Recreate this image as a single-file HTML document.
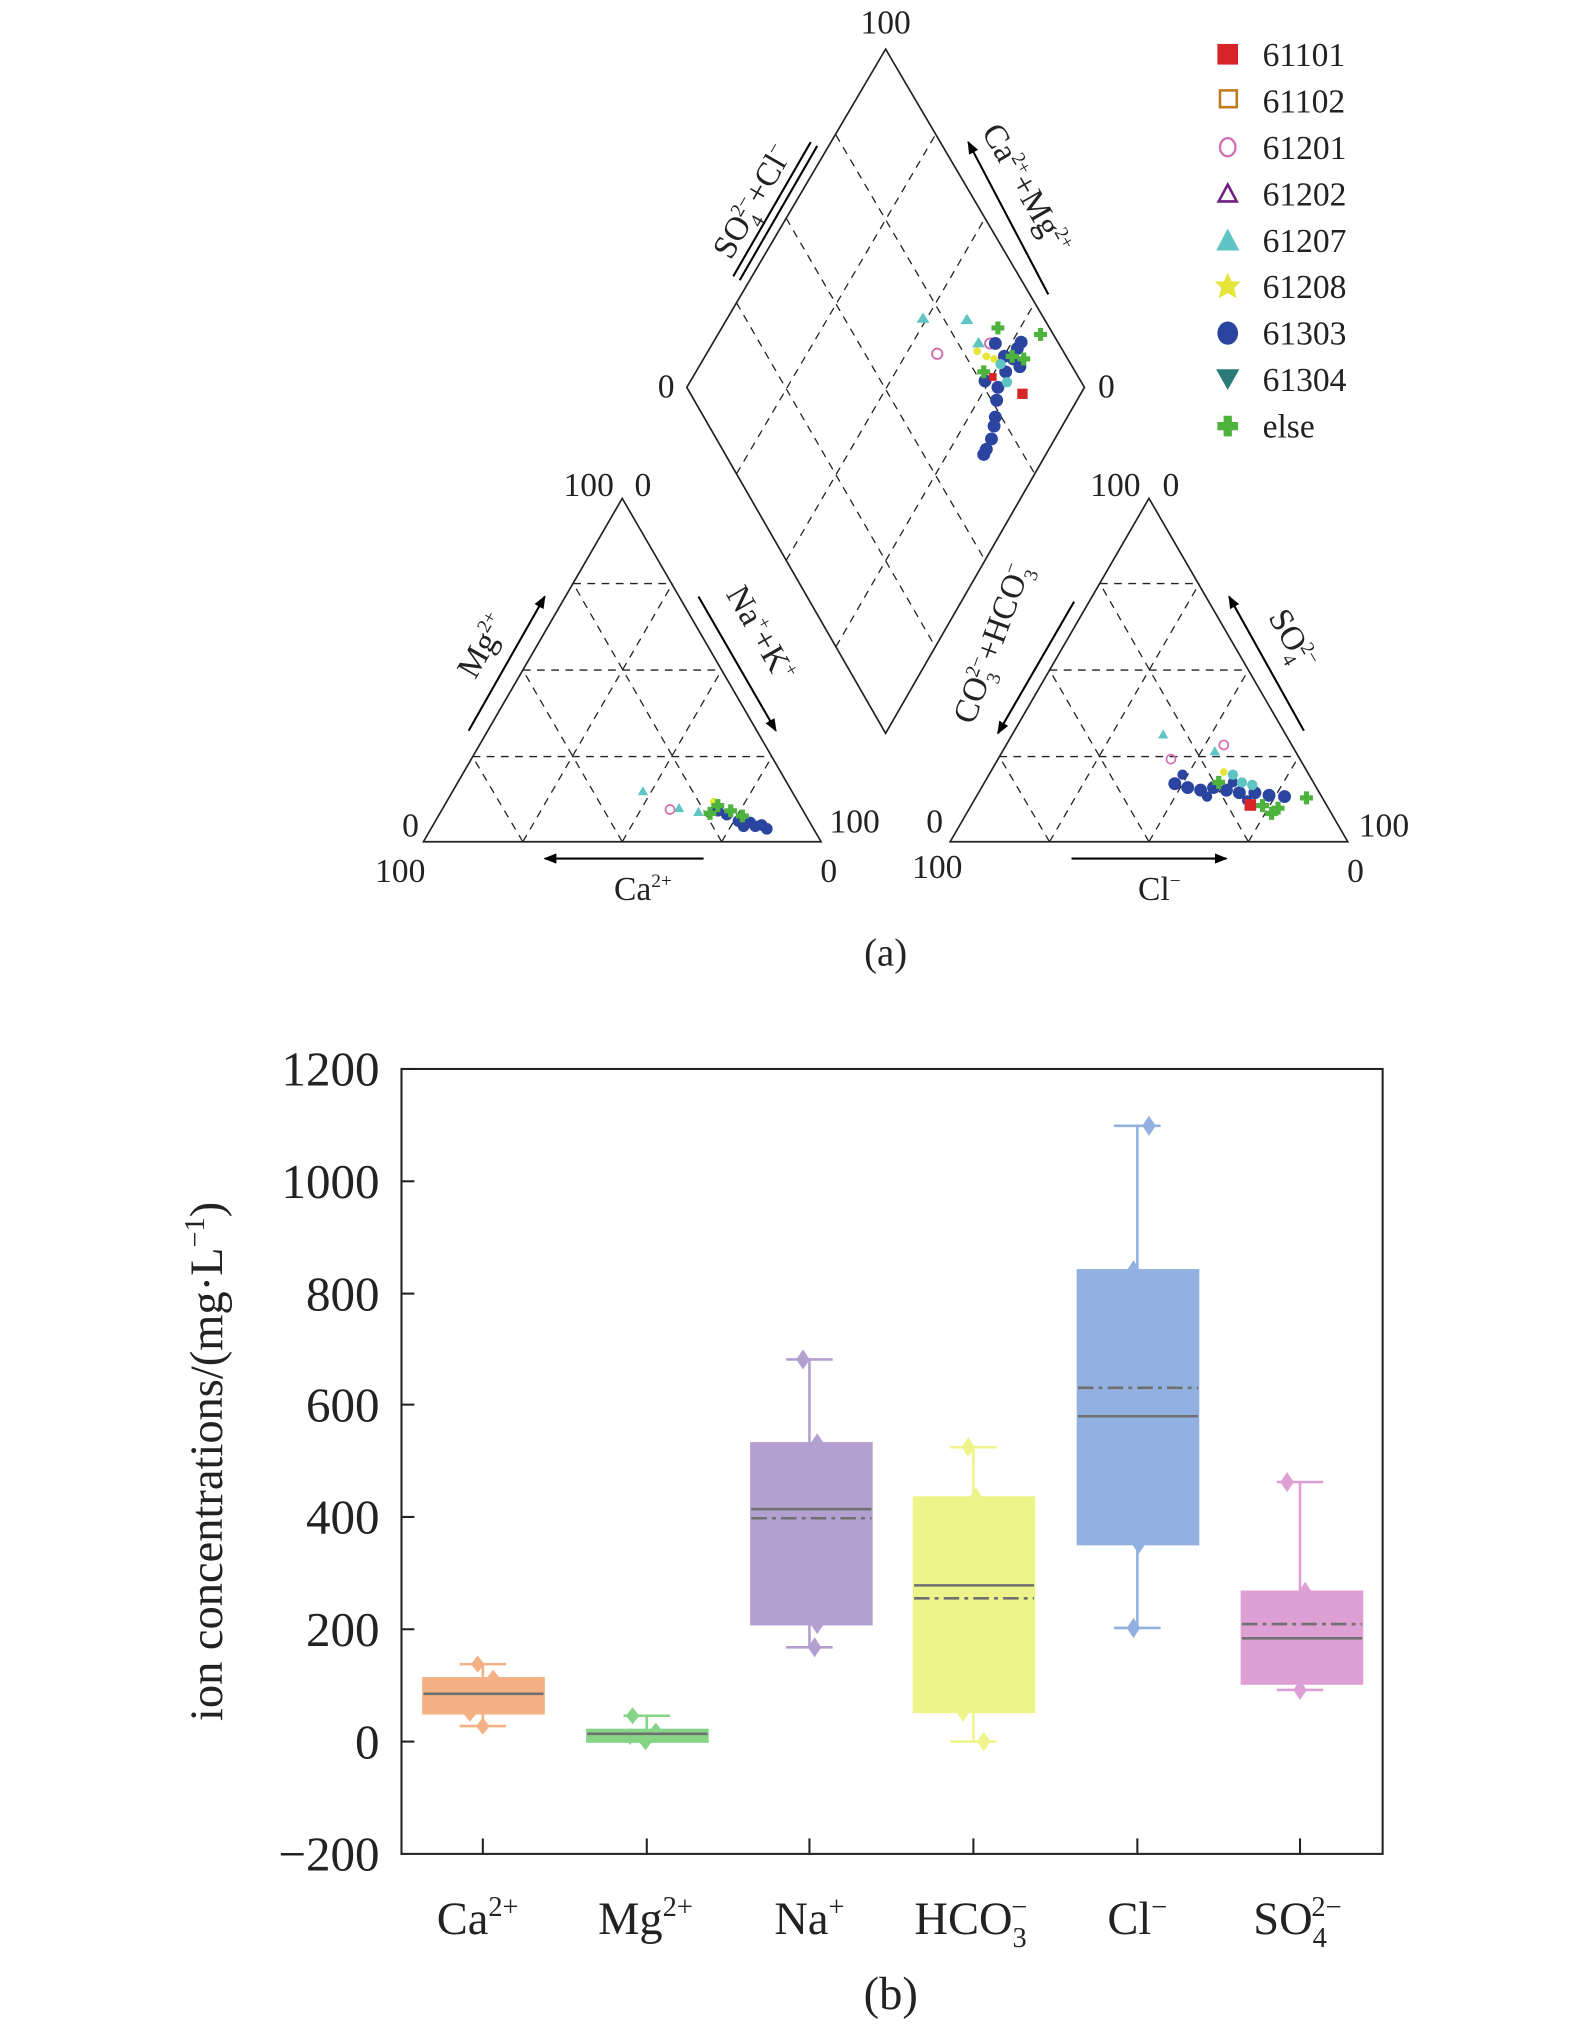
<!DOCTYPE html>
<html><head><meta charset="utf-8"><style>
html,body{margin:0;padding:0;background:#fff}
svg{display:block}
text{font-family:"Liberation Serif",serif;fill:#222}
</style></head><body>
<svg width="1575" height="2029" viewBox="0 0 1220 1571.6" xmlns="http://www.w3.org/2000/svg">
<defs>
<marker id="ar" markerWidth="10" markerHeight="8" refX="9" refY="4" orient="auto" markerUnits="userSpaceOnUse"><path d="M0,0 L10,4 L0,8 z" fill="#000"/></marker>
<g id="cr"><path d="M-2,-5h4v3h3v4h-3v3h-4v-3h-3v-4h3z" fill="#4db33d"/></g>
</defs>
<!-- Diamond -->
<g stroke="#222" fill="none" stroke-width="1.3">
<path d="M686,38 L840,300 L686,568 L532,300 Z"/>
</g>
<g stroke="#222" fill="none" stroke-width="1" stroke-dasharray="6,5">
<!-- lines parallel to upper-left edge (from left-bottom edge to right-top... ) -->
<line x1="570.5" y1="367" x2="724.5" y2="104.5"/>
<line x1="609" y1="434" x2="763" y2="169"/>
<line x1="647.5" y1="501" x2="801.5" y2="234.5"/>
<line x1="570.5" y1="234.5" x2="724.5" y2="501"/>
<line x1="609" y1="169" x2="763" y2="434"/>
<line x1="647.5" y1="104.5" x2="801.5" y2="367"/>
</g>
<!-- Left triangle -->
<path d="M328,652 L636,652 L482,386 Z" stroke="#222" fill="none" stroke-width="1.3"/>
<g stroke="#222" fill="none" stroke-width="1" stroke-dasharray="6,5">
<line x1="444" y1="452" x2="521" y2="452"/>
<line x1="405" y1="519" x2="559" y2="519"/>
<line x1="366" y1="586" x2="598" y2="586"/>
<line x1="405" y1="652" x2="521" y2="452"/>
<line x1="482" y1="652" x2="559" y2="519"/>
<line x1="559" y1="652" x2="598" y2="586"/>
<line x1="559" y1="652" x2="444" y2="452"/>
<line x1="482" y1="652" x2="405" y2="519"/>
<line x1="405" y1="652" x2="366" y2="586"/>
</g>
<!-- Right triangle -->
<path d="M736,652 L1044,652 L890,386 Z" stroke="#222" fill="none" stroke-width="1.3"/>
<g stroke="#222" fill="none" stroke-width="1" stroke-dasharray="6,5">
<line x1="852" y1="452" x2="929" y2="452"/>
<line x1="813" y1="519" x2="967" y2="519"/>
<line x1="774" y1="586" x2="1006" y2="586"/>
<line x1="813" y1="652" x2="929" y2="452"/>
<line x1="890" y1="652" x2="967" y2="519"/>
<line x1="967" y1="652" x2="1006" y2="586"/>
<line x1="967" y1="652" x2="852" y2="452"/>
<line x1="890" y1="652" x2="813" y2="519"/>
<line x1="813" y1="652" x2="774" y2="586"/>
</g>
<!-- arrows / lines -->
<g stroke="#000" stroke-width="1.6" fill="none">
<line x1="568" y1="214" x2="628" y2="110"/>
<line x1="573" y1="217" x2="633" y2="113"/>
<line x1="812" y1="228" x2="750" y2="110" marker-end="url(#ar)"/>
<line x1="363" y1="566" x2="422" y2="462" marker-end="url(#ar)"/>
<line x1="541" y1="462" x2="601" y2="566" marker-end="url(#ar)"/>
<line x1="545" y1="665" x2="422" y2="665" marker-end="url(#ar)"/>
<line x1="832" y1="466" x2="773" y2="568" marker-end="url(#ar)"/>
<line x1="1010" y1="566" x2="952" y2="462" marker-end="url(#ar)"/>
<line x1="830" y1="665" x2="950" y2="665" marker-end="url(#ar)"/>
</g>
<!-- labels (a) -->
<g font-size="26">
<text x="686" y="26" text-anchor="middle">100</text>
<text x="516" y="308" text-anchor="middle">0</text>
<text x="857" y="308" text-anchor="middle">0</text>
<text x="456" y="384" text-anchor="middle">100</text>
<text x="498" y="384" text-anchor="middle">0</text>
<text x="864" y="384" text-anchor="middle">100</text>
<text x="907" y="384" text-anchor="middle">0</text>
<text x="318" y="648" text-anchor="middle">0</text>
<text x="662" y="645" text-anchor="middle">100</text>
<text x="310" y="683" text-anchor="middle">100</text>
<text x="642" y="683" text-anchor="middle">0</text>
<text x="724" y="645" text-anchor="middle">0</text>
<text x="1072" y="648" text-anchor="middle">100</text>
<text x="726" y="680" text-anchor="middle">100</text>
<text x="1050" y="683" text-anchor="middle">0</text>
<text x="498" y="697" text-anchor="middle">Ca<tspan font-size="15" dy="-10">2+</tspan></text>
<text x="898" y="697" text-anchor="middle">Cl<tspan font-size="15" dy="-10">−</tspan></text>
<text x="686" y="748" text-anchor="middle" font-size="30">(a)</text>
<text transform="translate(566,202) rotate(-60)">SO<tspan font-size="15" dy="7">4</tspan><tspan font-size="15" dx="-8" dy="-17">2−</tspan><tspan dy="10">+Cl</tspan><tspan font-size="15" dy="-10">−</tspan></text>
<text transform="translate(760,102) rotate(60)">Ca<tspan font-size="15" dy="-10">2+</tspan><tspan dy="10">+Mg</tspan><tspan font-size="15" dy="-10">2+</tspan></text>
<text transform="translate(368,527) rotate(-60)">Mg<tspan font-size="15" dy="-10">2+</tspan></text>
<text transform="translate(562,460) rotate(60)">Na<tspan font-size="15" dy="-10">+</tspan><tspan dy="10">+K</tspan><tspan font-size="15" dy="-10">+</tspan></text>
<text transform="translate(754,562) rotate(-70)">CO<tspan font-size="15" dy="7">3</tspan><tspan font-size="15" dx="-8" dy="-17">2−</tspan><tspan dy="10">+HCO</tspan><tspan font-size="15" dy="7">3</tspan><tspan font-size="15" dx="-8" dy="-17">−</tspan></text>
<text transform="translate(982,478) rotate(60)">SO<tspan font-size="15" dy="7">4</tspan><tspan font-size="15" dx="-8" dy="-17">2−</tspan></text>
</g>
<!-- legend -->
<g font-size="26">
<rect x="943" y="34" width="16" height="16" fill="#d62428"/><text x="978" y="51">61101</text>
<rect x="945" y="70" width="13" height="13" fill="none" stroke="#c07a20" stroke-width="2"/><text x="978" y="87">61102</text>
<ellipse cx="951" cy="114" rx="6" ry="7" fill="none" stroke="#d070b0" stroke-width="1.8"/><text x="978" y="123">61201</text>
<path d="M951,143 L958,156 L944,156Z" fill="none" stroke="#702080" stroke-width="2"/><text x="978" y="159">61202</text>
<path d="M951,177 L960,194 L942,194Z" fill="#5ec4c4"/><text x="978" y="195">61207</text>
<path d="M951,211 l3,7 7,0 -5,5 2,8 -7,-4 -7,4 2,-8 -5,-5 7,0z" fill="#e6e63a"/><text x="978" y="231">61208</text>
<ellipse cx="951" cy="258" rx="8" ry="9" fill="#2a44a0"/><text x="978" y="267">61303</text>
<path d="M942,286 L960,286 L951,302Z" fill="#2a7a7a"/><text x="978" y="303">61304</text>
<use href="#cr" transform="translate(951,330) scale(1.6)"/><text x="978" y="339">else</text>
</g>
<!-- diamond points -->
<g>
<path d="M715,242l5,8h-10z" fill="#5ec4c4"/><path d="M749,243l5,8h-10z" fill="#5ec4c4"/><path d="M758,261l5,8h-10z" fill="#5ec4c4"/>
<circle cx="726" cy="274" r="4" fill="none" stroke="#d070b0" stroke-width="1.5"/>
<circle cx="767" cy="266" r="4" fill="none" stroke="#d070b0" stroke-width="1.5"/>
<use href="#cr" x="773" y="254"/><use href="#cr" x="806" y="259"/>
<g fill="#2a44a0">
<circle cx="771" cy="266" r="5"/><circle cx="788" cy="270" r="5"/><circle cx="791" cy="265" r="5"/><circle cx="785" cy="278" r="5"/><circle cx="790" cy="284" r="5"/><circle cx="779" cy="288" r="5"/><circle cx="763" cy="295" r="5"/><circle cx="773" cy="300" r="5"/><circle cx="772" cy="310" r="5"/><circle cx="771" cy="323" r="5"/><circle cx="770" cy="330" r="5"/><circle cx="768" cy="340" r="5"/><circle cx="764" cy="348" r="5"/><circle cx="762" cy="352" r="5"/><circle cx="778" cy="276" r="5"/>
</g>
<g fill="#e6e63a"><circle cx="757" cy="272" r="3"/><circle cx="764" cy="276" r="3"/><circle cx="770" cy="278" r="3"/></g>
<g fill="#5ec4c4"><circle cx="775" cy="282" r="4"/><circle cx="780" cy="296" r="4"/></g>
<use href="#cr" x="784" y="276"/><use href="#cr" x="762" y="288"/><use href="#cr" x="793" y="278"/>
<rect x="788" y="301" width="8" height="8" fill="#d62428"/>
<rect x="766" y="289" width="6" height="6" fill="#d62428"/>
</g>
<!-- left tri points -->
<g>
<path d="M498,609l4,7h-8z" fill="#5ec4c4"/><path d="M526,622l4,7h-8z" fill="#5ec4c4"/><path d="M541,625l4,7h-8z" fill="#5ec4c4"/>
<circle cx="519" cy="627" r="3.5" fill="none" stroke="#d070b0" stroke-width="1.3"/>
<g fill="#2a44a0"><circle cx="563" cy="631" r="4.5"/><circle cx="572" cy="636" r="4.5"/><circle cx="581" cy="637" r="4.5"/><circle cx="590" cy="639" r="4.5"/><circle cx="594" cy="642" r="4.5"/><circle cx="585" cy="640" r="4.5"/><circle cx="556" cy="628" r="4.5"/><circle cx="576" cy="640" r="4.5"/></g>
<g fill="#e6e63a"><circle cx="553" cy="621" r="3"/></g>
<use href="#cr" x="556" y="624"/><use href="#cr" x="566" y="628"/><use href="#cr" x="575" y="632"/><use href="#cr" x="550" y="630"/>
</g>
<!-- right tri points -->
<g>
<path d="M901,565l4,7h-8z" fill="#5ec4c4"/><path d="M941,578l4,7h-8z" fill="#5ec4c4"/>
<circle cx="907" cy="588" r="3.5" fill="none" stroke="#d070b0" stroke-width="1.3"/>
<circle cx="948" cy="577" r="3.5" fill="none" stroke="#d070b0" stroke-width="1.3"/>
<g fill="#2a44a0"><circle cx="910" cy="607" r="5"/><circle cx="920" cy="610" r="5"/><circle cx="930" cy="612" r="5"/><circle cx="940" cy="610" r="5"/><circle cx="950" cy="612" r="5"/><circle cx="960" cy="614" r="5"/><circle cx="972" cy="614" r="5"/><circle cx="983" cy="616" r="5"/><circle cx="995" cy="617" r="5"/><circle cx="916" cy="600" r="4"/><circle cx="935" cy="617" r="4"/><circle cx="955" cy="606" r="4"/><circle cx="966" cy="620" r="4"/></g>
<g fill="#5ec4c4"><circle cx="955" cy="600" r="4"/><circle cx="962" cy="606" r="4"/><circle cx="970" cy="608" r="4"/></g>
<g fill="#e6e63a"><circle cx="948" cy="598" r="3"/></g>
<use href="#cr" x="1012" y="618"/><use href="#cr" x="990" y="626"/><use href="#cr" x="985" y="630"/><use href="#cr" x="978" y="624"/><use href="#cr" x="944" y="606"/>
<rect x="964" y="619" width="9" height="9" fill="#d62428"/>
</g>

<!-- (b) box plot -->
<rect x="311" y="828" width="760" height="608" fill="none" stroke="#222" stroke-width="1.6"/>
<g stroke="#222" stroke-width="1.6">
<line x1="374" y1="1436" x2="374" y2="1424"/><line x1="501" y1="1436" x2="501" y2="1424"/><line x1="627" y1="1436" x2="627" y2="1424"/><line x1="754" y1="1436" x2="754" y2="1424"/><line x1="881" y1="1436" x2="881" y2="1424"/><line x1="1007" y1="1436" x2="1007" y2="1424"/>
<line x1="311" y1="828" x2="321" y2="828"/>
<line x1="311" y1="915" x2="321" y2="915"/><line x1="311" y1="1002" x2="321" y2="1002"/><line x1="311" y1="1088" x2="321" y2="1088"/><line x1="311" y1="1175" x2="321" y2="1175"/><line x1="311" y1="1262" x2="321" y2="1262"/><line x1="311" y1="1349" x2="321" y2="1349"/>
</g>
<g font-size="38" text-anchor="end">
<text x="294" y="841">1200</text><text x="294" y="928">1000</text><text x="294" y="1015">800</text><text x="294" y="1101">600</text><text x="294" y="1188">400</text><text x="294" y="1275">200</text><text x="294" y="1362">0</text><text x="294" y="1449">−200</text>
</g>
<text transform="translate(172,1132) rotate(-90)" font-size="36" text-anchor="middle">ion concentrations/(mg·L<tspan font-size="22" dy="-14">−1</tspan><tspan dy="14">)</tspan></text>
<g font-size="36" text-anchor="middle">
<text x="370" y="1498">Ca<tspan font-size="22" dy="-14">2+</tspan></text>
<text x="500" y="1498">Mg<tspan font-size="22" dy="-14">2+</tspan></text>
<text x="627" y="1498">Na<tspan font-size="22" dy="-14">+</tspan></text>
<text x="752" y="1498">HCO<tspan font-size="22" dy="10">3</tspan><tspan font-size="22" dx="-12" dy="-24">−</tspan></text>
<text x="881" y="1498">Cl<tspan font-size="22" dy="-14">−</tspan></text>
<text x="1005" y="1498">SO<tspan font-size="22" dy="10">4</tspan><tspan font-size="22" dx="-12" dy="-24">2−</tspan></text>
<text x="690" y="1556">(b)</text>
</g>
<!-- boxes: y(v)=1349.4-v*0.4345 -->
<g stroke-width="2">
<!-- Ca -->
<g stroke="#f4b183" fill="#f4b183"><line x1="374" y1="1337" x2="374" y2="1289"/><line x1="356" y1="1337" x2="392" y2="1337"/><line x1="356" y1="1289" x2="392" y2="1289"/><rect x="328" y="1300" width="93" height="27"/>
<path d="M366,1289l4,-5 4,5 -4,5z M370,1337l4,-5 4,5 -4,5z M378,1300l4,-5 4,5 -4,5z M360,1327l4,-5 4,5 -4,5z"/></g>
<line x1="328" y1="1312" x2="421" y2="1312" stroke="#707070"/>
<!-- Mg -->
<g stroke="#86d486" fill="#86d486"><line x1="501" y1="1349" x2="501" y2="1329"/><line x1="483" y1="1329" x2="519" y2="1329"/><rect x="455" y="1340" width="93" height="9"/>
<path d="M486,1329l4,-5 4,5 -4,5z M496,1349l4,-5 4,5 -4,5z M484,1345l4,-5 4,5 -4,5z M504,1341l4,-5 4,5 -4,5z"/></g>
<line x1="455" y1="1343" x2="548" y2="1343" stroke="#707070"/>
<!-- Na -->
<g stroke="#b4a0d0" fill="#b4a0d0"><line x1="627" y1="1053" x2="627" y2="1276"/><line x1="609" y1="1053" x2="645" y2="1053"/><line x1="609" y1="1276" x2="645" y2="1276"/><rect x="582" y="1118" width="93" height="140"/>
<path d="M618,1053l4,-6 4,6 -4,6z M627,1276l4,-6 4,6 -4,6z M629,1118l4,-6 4,6 -4,6z M629,1258l4,-6 4,6 -4,6z"/></g>
<line x1="582" y1="1169" x2="675" y2="1169" stroke="#707070"/>
<line x1="582" y1="1176" x2="675" y2="1176" stroke="#707070" stroke-dasharray="12,4,3,4"/>
<!-- HCO3 -->
<g stroke="#eff48a" fill="#eff48a"><line x1="754" y1="1121" x2="754" y2="1349"/><line x1="736" y1="1121" x2="772" y2="1121"/><line x1="736" y1="1349" x2="772" y2="1349"/><rect x="708" y="1160" width="93" height="166"/>
<path d="M746,1121l4,-6 4,6 -4,6z M758,1349l4,-6 4,6 -4,6z M752,1160l4,-6 4,6 -4,6z M742,1326l4,-6 4,6 -4,6z"/></g>
<line x1="708" y1="1228" x2="801" y2="1228" stroke="#707070"/>
<line x1="708" y1="1238" x2="801" y2="1238" stroke="#707070" stroke-dasharray="12,4,3,4"/>
<!-- Cl -->
<g stroke="#92b0e0" fill="#92b0e0"><line x1="881" y1="872" x2="881" y2="1261"/><line x1="863" y1="872" x2="899" y2="872"/><line x1="863" y1="1261" x2="899" y2="1261"/><rect x="835" y="984" width="93" height="212"/>
<path d="M886,872l4,-6 4,6 -4,6z M874,1261l4,-6 4,6 -4,6z M874,984l4,-6 4,6 -4,6z M878,1196l4,-6 4,6 -4,6z"/></g>
<line x1="835" y1="1097" x2="928" y2="1097" stroke="#707070"/>
<line x1="835" y1="1075" x2="928" y2="1075" stroke="#707070" stroke-dasharray="12,4,3,4"/>
<!-- SO4 -->
<g stroke="#dea0d4" fill="#dea0d4"><line x1="1007" y1="1148" x2="1007" y2="1309"/><line x1="989" y1="1148" x2="1025" y2="1148"/><line x1="989" y1="1309" x2="1025" y2="1309"/><rect x="962" y="1233" width="93" height="71"/>
<path d="M993,1148l4,-6 4,6 -4,6z M1003,1309l4,-6 4,6 -4,6z M1007,1233l4,-6 4,6 -4,6z"/></g>
<line x1="962" y1="1269" x2="1055" y2="1269" stroke="#707070"/>
<line x1="962" y1="1258" x2="1055" y2="1258" stroke="#707070" stroke-dasharray="12,4,3,4"/>
</g>
</svg>
</body></html>
